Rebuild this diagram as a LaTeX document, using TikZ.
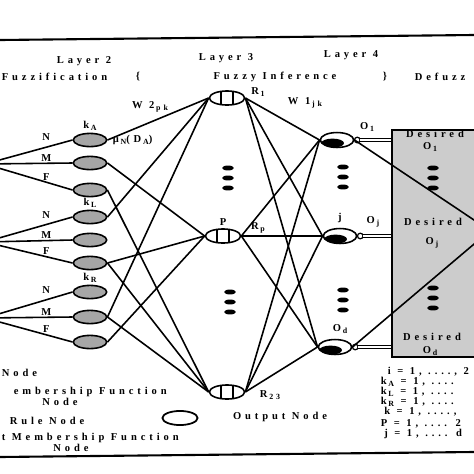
\documentclass[tikz,border=0pt]{standalone}
\usepackage{fontspec}
\usetikzlibrary{shapes.geometric}
\newfontfamily\lblfont[LetterSpace=37]{Liberation Serif}
\newcommand{\lsub}[1]{\,\raisebox{-0.5ex}{\fontsize{4.5}{4.5}\selectfont #1}}

\begin{document}
\begin{tikzpicture}[x=0.02cm,y=-0.02cm,line width=0.9pt,
    lbl/.style={font=\lblfont\bfseries\fontsize{6}{5.7}\selectfont,inner sep=0.6pt},
    mf/.style={ellipse,draw,fill=black!35,minimum width=19pt,minimum height=7.5pt,inner sep=0pt},
    rule/.style={ellipse,draw,fill=white,minimum width=20pt,minimum height=8pt,inner sep=0pt,
      path picture={\draw ([xshift=-3.4pt]path picture bounding box.north) -- ([xshift=-3.4pt]path picture bounding box.south)
        ([xshift=3.4pt]path picture bounding box.north) -- ([xshift=3.4pt]path picture bounding box.south);}},
    outp/.style={ellipse,draw,fill=white,minimum width=19pt,minimum height=8.5pt,inner sep=0pt,
      path picture={\fill[black] ([xshift=-2.5pt,yshift=-1.8pt]path picture bounding box.center) ellipse (6.5pt and 2.6pt);}},
    legnode/.style={ellipse,draw,line width=1pt,minimum width=20pt,minimum height=8pt,inner sep=0pt},
    dbox/.style={draw,fill=black!20,minimum width=1.76cm,minimum height=4.54cm,inner sep=0pt}]
  \useasboundingbox (0,0) rectangle (474,474);

  \draw[line width=1.2pt] (0,40) -- (474,35);
  \draw[line width=1.2pt] (0,457) -- (474,452);

  \node[lbl] (lay2) at (84,61) {Layer 2};
  \node[lbl] (lay3) at (226,58) {Layer 3};
  \node[lbl] (lay4) at (351,55) {Layer 4};
  \node[lbl,anchor=west] (fuzz) at (0,77) {Fuzzification};
  \node[lbl] (lbr) at (138,77) {\{};
  \node[lbl] (infer) at (275,77) {Fuzzy Inference};
  \node[lbl] (rbr) at (385,77) {\}};
  \node[lbl,anchor=west] (defuzz) at (413,77) {Defuzz};

  \node[mf,label={[lbl]above:k\lsub{A}},label={[lbl,xshift=2pt]right:μ\lsub{N}(D\lsub{A})}] (n1) at (90,140) {};
  \node[mf] (m1) at (90,163) {};
  \node[mf] (f1) at (90,190) {};
  \node[mf,label={[lbl]above:k\lsub{L}}] (n2) at (90,217) {};
  \node[mf] (m2) at (90,240) {};
  \node[mf] (f2) at (90,263) {};
  \node[mf,label={[lbl]above:k\lsub{R}}] (n3) at (90,292) {};
  \node[mf] (m3) at (90,317) {};
  \node[mf] (f3) at (90,342) {};

  \node[rule] (r1) at (227,98) {};
  \node[rule] (rp) at (223,236) {};
  \node[rule] (r23) at (227,392) {};

  \node[outp] (o1) at (337,140) {};
  \node[outp] (oj) at (340,236) {};
  \node[outp] (od) at (335,347) {};

  \node[dbox] (dbox) at (436,243.5) {};

  \coordinate (in1) at (-15,164);
  \coordinate (in2) at (-15,242);
  \coordinate (in3) at (-15,318);
  \coordinate (e1) at (480,224);
  \coordinate (e2) at (480,239);

  \foreach \i in {1,2,3}
    \path (in\i) edge node[lbl,above=2.5pt,pos=.7] {N} (n\i.west)
      edge node[lbl,above,pos=.7] {M} (m\i.west)
      edge node[lbl,above,pos=.7] {F} (f\i.west);

  \path (r1.west) edge (n1.east) edge (n2.east) edge (m3.east)
    (rp.west) edge (m1.east) edge (f2.east) edge (f3.east)
    (r23.west) edge (f1.east) edge (f2.east) edge (m3.east);

  \foreach \r in {r1,rp,r23}
    \foreach \o in {o1,oj,od}
      \draw (\r.east) -- (\o.west);

  \foreach \o in {o1,oj,od} {
    \draw[line width=0.7pt] ([xshift=1.6pt]\o.east) circle (1.6pt);
    \draw[double,double distance=1.4pt,line width=0.6pt] ([xshift=3.2pt]\o.east) -- (\o.east -| dbox.west);
  }
  \draw (o1.east) -- (e1);
  \draw (od.east) -- (e2);

  \foreach \x/\y in {228/168,230/292,343/167,343/290,433/168,433/288}
    \foreach \d in {0,10,20}
      \fill (\x,\y+\d) ellipse (3.4pt and 1.4pt);

  \node[lbl] (w2) at (150,107) {W 2\lsub{pk}};
  \node[lbl] (r1l) at (258,92) {R\lsub{1}};
  \node[lbl] (w1) at (305,103) {W 1\lsub{jk}};
  \node[lbl] (pl) at (223,222) {P};
  \node[lbl] (rpl) at (258,228) {R\lsub{p}};
  \node[lbl] (r23l) at (270,395) {R\lsub{23}};
  \node[lbl] (o1l) at (367,127) {O\lsub{1}};
  \node[lbl] (jl) at (340,218) {j};
  \node[lbl] (ojl) at (373,222) {O\lsub{j}};
  \node[lbl] (odl) at (340,329) {O\lsub{d}};

  \node[lbl] (des1) at (435,134) {Desired};
  \node[lbl] (do1) at (430,147) {O\lsub{1}};
  \node[lbl] (des2) at (433,222) {Desired};
  \node[lbl] (doj) at (432,243) {O\lsub{j}};
  \node[lbl] (des3) at (432,337) {Desired};
  \node[lbl] (dod) at (430,351) {O\lsub{d}};

  \node[lbl,align=left,anchor=north west] (idx) at (379,365) {\hspace{4pt}i = 1, ...., 2\\
    k\lsub{A} = 1, ....\\k\lsub{L} = 1, ....\\k\lsub{R} = 1, ....\\
    \hspace{2pt}k = 1, ....,\\[1.5pt] P = 1, .... 2\\\hspace{2pt}j = 1, .... d};

  \node[legnode] (leg) at (180,418) {};
  \node[lbl,anchor=west] (t1) at (0,373) {Node};
  \node[lbl,anchor=west] (t2) at (12,392) {embership Function};
  \node[lbl] (t3) at (60,402) {Node};
  \node[lbl,anchor=west] (t4) at (8,421) {Rule Node};
  \node[lbl] (t5) at (280,417) {Output Node};
  \node[lbl,anchor=west] (t6) at (0,438) {t Membership Function};
  \node[lbl] (t7) at (71,448) {Node};
\end{tikzpicture}
\end{document}
